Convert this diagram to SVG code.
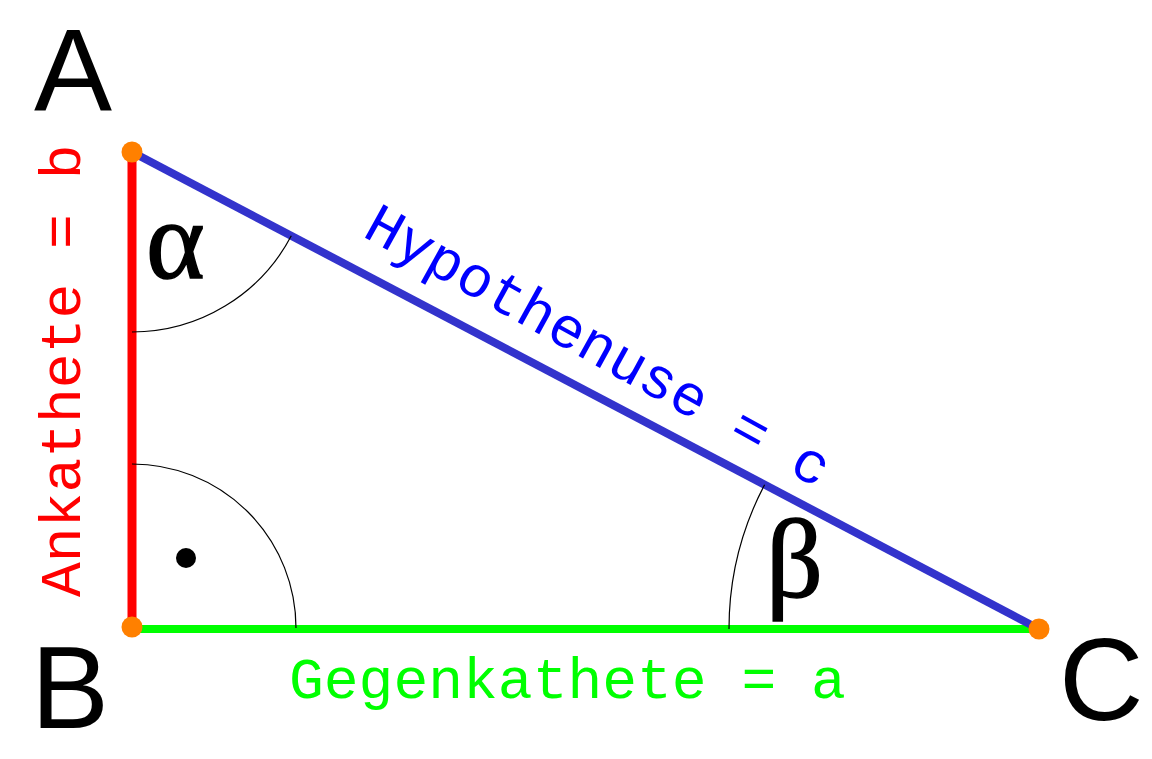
<svg xmlns="http://www.w3.org/2000/svg" width="1152" height="759" viewBox="0 0 1152 759">
<style>
.vlabel{font-family:"Liberation Sans",Arial,sans-serif;font-size:117px;fill:#000}
.mono{font-family:"Liberation Mono","Courier New",monospace;font-size:58px}
.greek{font-family:"Liberation Serif","Times New Roman",serif;font-size:112px;fill:#000;stroke:#000;stroke-width:1.5}
.arc{fill:none;stroke:#000;stroke-width:1.2}
.pt{fill:#ff8000}
</style>
<rect width="1152" height="759" fill="#fff"/>
<g id="connectors">
<line id="side-b" x1="132" y1="152" x2="132" y2="628" stroke="#ff0000" stroke-width="9"/>
<line id="side-a" x1="132" y1="629" x2="1039" y2="629" stroke="#00ff00" stroke-width="8"/>
<line id="side-c" x1="132" y1="152" x2="1039" y2="629" stroke="#3333cc" stroke-width="8"/>
</g>
<g id="angles">
<path class="arc" d="M132,332 A180,180 0 0 0 291.3,235.8"/>
<path class="arc" d="M132,464 A164,164 0 0 1 296,628"/>
<path class="arc" d="M729,629 A310,310 0 0 1 764.6,484.7"/>
<circle cx="186" cy="558" r="10" fill="#000"/>
<text class="greek" x="146" y="278">α</text>
<text class="greek" x="766" y="597">β</text>
</g>
<g id="node-A">
<circle class="pt" cx="132" cy="152" r="10.5"/>
<text class="vlabel" x="34" y="111">A</text>
</g>
<g id="node-B">
<circle class="pt" cx="132" cy="627" r="10.5"/>
<text class="vlabel" x="31" y="728">B</text>
</g>
<g id="node-C">
<circle class="pt" cx="1039" cy="629" r="10.5"/>
<text class="vlabel" x="1059" y="720">C</text>
</g>
<g id="labels">
<text class="mono" fill="#ff0000" x="80" y="597" transform="rotate(-90 80 597)">Ankathete = b</text>
<text class="mono" fill="#0000ff" x="361" y="235.5" transform="rotate(29 361 235.5)">Hypothenuse = c</text>
<text class="mono" fill="#00ff00" x="289" y="698">Gegenkathete = a</text>
</g>
</svg>
